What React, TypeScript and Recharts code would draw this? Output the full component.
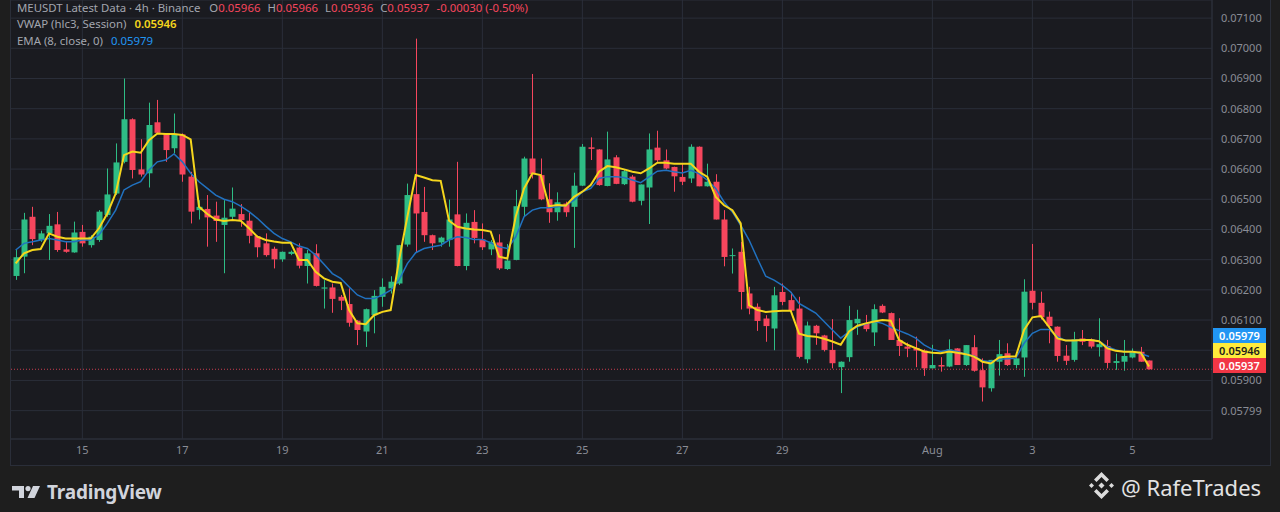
import React from 'react';
import { ComposedChart, Bar, Line, XAxis, YAxis, CartesianGrid, ReferenceLine } from 'recharts';

// MEUSDT 4h candles
const opens = [
  0.06246, 0.06310, 0.06442, 0.06365, 0.06387, 0.06417, 0.06334, 0.06324, 0.06392, 0.06348,
  0.06365, 0.06448, 0.06519, 0.06624, 0.06765, 0.06599, 0.06586, 0.06755, 0.06716, 0.06669,
  0.06715, 0.06575, 0.06464, 0.06468, 0.06446, 0.06415, 0.06442, 0.06451, 0.06429, 0.06378,
  0.06354, 0.06336, 0.06301, 0.06319, 0.06340, 0.06279, 0.06321, 0.06204, 0.06208, 0.06177,
  0.06153, 0.06098, 0.06062, 0.06116, 0.06177, 0.06205, 0.06221, 0.06350, 0.06517, 0.06458,
  0.06381, 0.06357, 0.06365, 0.06450, 0.06279, 0.06425, 0.06367, 0.06334, 0.06357, 0.06269,
  0.06299, 0.06475, 0.06635, 0.06580, 0.06500, 0.06457, 0.06486, 0.06475, 0.06545, 0.06672,
  0.06665, 0.06544, 0.06639, 0.06550, 0.06575, 0.06495, 0.06539, 0.06671, 0.06629, 0.06607,
  0.06574, 0.06569, 0.06674, 0.06543, 0.06558, 0.06433, 0.06312, 0.06326, 0.06188, 0.06144,
  0.06105, 0.06072, 0.06193, 0.06166, 0.06138, 0.05970, 0.06081, 0.06049, 0.06001, 0.05944,
  0.05977, 0.06089, 0.06089, 0.06059, 0.06147, 0.06123, 0.06034, 0.06012, 0.06007, 0.05999,
  0.05940, 0.05951, 0.05946, 0.06006, 0.05951, 0.06010, 0.05934, 0.05874, 0.05962, 0.05990,
  0.05951, 0.05976, 0.06197, 0.06157, 0.06111, 0.06078, 0.05982, 0.05968, 0.06039, 0.06036,
  0.06010, 0.06014, 0.05958, 0.05962, 0.05976, 0.05995, 0.05966,
];
const highs = [
  0.06332, 0.06455, 0.06475, 0.06396, 0.06451, 0.06458, 0.06362, 0.06426, 0.06415, 0.06381,
  0.06464, 0.06602, 0.06685, 0.06900, 0.06768, 0.06699, 0.06820, 0.06829, 0.06719, 0.06784,
  0.06718, 0.06591, 0.06497, 0.06514, 0.06492, 0.06497, 0.06539, 0.06484, 0.06455, 0.06380,
  0.06387, 0.06343, 0.06327, 0.06330, 0.06354, 0.06332, 0.06351, 0.06232, 0.06221, 0.06183,
  0.06205, 0.06100, 0.06138, 0.06199, 0.06238, 0.06245, 0.06349, 0.06552, 0.07032, 0.06541,
  0.06383, 0.06376, 0.06499, 0.06624, 0.06453, 0.06464, 0.06420, 0.06365, 0.06384, 0.06352,
  0.06531, 0.06641, 0.06915, 0.06635, 0.06553, 0.06523, 0.06492, 0.06588, 0.06683, 0.06705,
  0.06666, 0.06724, 0.06646, 0.06597, 0.06580, 0.06549, 0.06718, 0.06727, 0.06665, 0.06608,
  0.06618, 0.06682, 0.06675, 0.06618, 0.06583, 0.06464, 0.06337, 0.06359, 0.06210, 0.06155,
  0.06116, 0.06210, 0.06221, 0.06193, 0.06177, 0.06095, 0.06084, 0.06051, 0.06103, 0.05963,
  0.06147, 0.06134, 0.06117, 0.06152, 0.06152, 0.06125, 0.06106, 0.06025, 0.06045, 0.06003,
  0.06018, 0.05977, 0.06036, 0.06007, 0.06017, 0.06050, 0.05973, 0.05968, 0.06034, 0.06023,
  0.05979, 0.06235, 0.06352, 0.06194, 0.06128, 0.06079, 0.06017, 0.06061, 0.06067, 0.06039,
  0.06106, 0.06034, 0.05989, 0.06034, 0.06006, 0.06011, 0.05966,
];
const lows = [
  0.06233, 0.06255, 0.06348, 0.06359, 0.06299, 0.06326, 0.06323, 0.06323, 0.06343, 0.06340,
  0.06359, 0.06442, 0.06514, 0.06619, 0.06569, 0.06575, 0.06539, 0.06716, 0.06624, 0.06652,
  0.06558, 0.06420, 0.06433, 0.06343, 0.06359, 0.06255, 0.06433, 0.06409, 0.06354, 0.06308,
  0.06310, 0.06271, 0.06293, 0.06315, 0.06271, 0.06221, 0.06211, 0.06138, 0.06124, 0.06133,
  0.06078, 0.06017, 0.06011, 0.06056, 0.06144, 0.06188, 0.06216, 0.06343, 0.06323, 0.06359,
  0.06332, 0.06343, 0.06343, 0.06278, 0.06265, 0.06354, 0.06332, 0.06315, 0.06266, 0.06266,
  0.06298, 0.06442, 0.06569, 0.06497, 0.06422, 0.06429, 0.06442, 0.06339, 0.06544, 0.06630,
  0.06545, 0.06543, 0.06550, 0.06547, 0.06490, 0.06480, 0.06418, 0.06624, 0.06599, 0.06525,
  0.06547, 0.06554, 0.06543, 0.06542, 0.06433, 0.06278, 0.06254, 0.06135, 0.06119, 0.06064,
  0.06028, 0.06000, 0.06149, 0.06125, 0.05973, 0.05957, 0.06018, 0.05996, 0.05940, 0.05858,
  0.05962, 0.06051, 0.06062, 0.06014, 0.06123, 0.06034, 0.05981, 0.05977, 0.05944, 0.05915,
  0.05940, 0.05929, 0.05944, 0.05951, 0.05948, 0.05929, 0.05830, 0.05863, 0.05916, 0.05948,
  0.05940, 0.05912, 0.06135, 0.06102, 0.06023, 0.05962, 0.05951, 0.05962, 0.06017, 0.06006,
  0.05979, 0.05940, 0.05935, 0.05932, 0.05973, 0.05962, 0.05936,
];
const closes = [
  0.06308, 0.06433, 0.06368, 0.06387, 0.06412, 0.06332, 0.06326, 0.06390, 0.06354, 0.06376,
  0.06459, 0.06516, 0.06622, 0.06765, 0.06597, 0.06582, 0.06746, 0.06720, 0.06663, 0.06713,
  0.06582, 0.06459, 0.06475, 0.06440, 0.06428, 0.06439, 0.06469, 0.06431, 0.06379, 0.06341,
  0.06315, 0.06301, 0.06326, 0.06326, 0.06280, 0.06321, 0.06213, 0.06208, 0.06170, 0.06164,
  0.06091, 0.06067, 0.06136, 0.06180, 0.06210, 0.06227, 0.06348, 0.06514, 0.06453, 0.06381,
  0.06354, 0.06373, 0.06433, 0.06279, 0.06422, 0.06372, 0.06341, 0.06359, 0.06271, 0.06297,
  0.06477, 0.06635, 0.06583, 0.06500, 0.06457, 0.06490, 0.06457, 0.06545, 0.06674, 0.06667,
  0.06547, 0.06632, 0.06551, 0.06593, 0.06492, 0.06549, 0.06665, 0.06629, 0.06602, 0.06576,
  0.06558, 0.06674, 0.06543, 0.06558, 0.06433, 0.06309, 0.06315, 0.06193, 0.06138, 0.06097,
  0.06080, 0.06182, 0.06160, 0.06131, 0.05978, 0.06082, 0.06056, 0.06001, 0.05957, 0.05962,
  0.06100, 0.06104, 0.06070, 0.06136, 0.06125, 0.06034, 0.06014, 0.06005, 0.05999, 0.05940,
  0.05951, 0.05946, 0.06003, 0.05951, 0.06017, 0.05932, 0.05877, 0.05968, 0.05987, 0.05951,
  0.05973, 0.06194, 0.06157, 0.06109, 0.06080, 0.05981, 0.05965, 0.06036, 0.06028, 0.06012,
  0.06020, 0.05958, 0.05964, 0.05981, 0.05995, 0.05962, 0.05937,
];
const vwapValues = [
  0.06288, 0.06321, 0.06332, 0.06335, 0.06387, 0.06376, 0.06370, 0.06370, 0.06370, 0.06370,
  0.06404, 0.06453, 0.06519, 0.06646, 0.06658, 0.06654, 0.06696, 0.06718, 0.06716, 0.06716,
  0.06713, 0.06698, 0.06475, 0.06451, 0.06433, 0.06428, 0.06431, 0.06429, 0.06404, 0.06376,
  0.06365, 0.06360, 0.06356, 0.06356, 0.06299, 0.06299, 0.06260, 0.06238, 0.06227, 0.06223,
  0.06133, 0.06089, 0.06086, 0.06116, 0.06127, 0.06133, 0.06298, 0.06442, 0.06580, 0.06572,
  0.06563, 0.06561, 0.06429, 0.06409, 0.06403, 0.06400, 0.06398, 0.06393, 0.06310, 0.06304,
  0.06442, 0.06536, 0.06586, 0.06580, 0.06477, 0.06481, 0.06479, 0.06508, 0.06525, 0.06547,
  0.06591, 0.06610, 0.06606, 0.06599, 0.06591, 0.06586, 0.06602, 0.06621, 0.06621, 0.06618,
  0.06618, 0.06618, 0.06591, 0.06574, 0.06508, 0.06480, 0.06464, 0.06420, 0.06149, 0.06133,
  0.06127, 0.06129, 0.06131, 0.06131, 0.06055, 0.06047, 0.06045, 0.06038, 0.06029, 0.06018,
  0.06062, 0.06081, 0.06089, 0.06095, 0.06100, 0.06098, 0.06034, 0.06018, 0.06007, 0.05996,
  0.05992, 0.05990, 0.05996, 0.05992, 0.05987, 0.05979, 0.05962, 0.05956, 0.05976, 0.05979,
  0.05979, 0.06067, 0.06109, 0.06113, 0.06077, 0.06039, 0.06032, 0.06032, 0.06034, 0.06034,
  0.06030, 0.06006, 0.05998, 0.05995, 0.05995, 0.05992, 0.05946,
];
const emaValues = [
  0.06332, 0.06354, 0.06359, 0.06365, 0.06370, 0.06365, 0.06359, 0.06359, 0.06365, 0.06365,
  0.06382, 0.06420, 0.06464, 0.06531, 0.06547, 0.06558, 0.06597, 0.06624, 0.06630, 0.06650,
  0.06624, 0.06586, 0.06558, 0.06536, 0.06514, 0.06500, 0.06492, 0.06477, 0.06459, 0.06437,
  0.06411, 0.06387, 0.06370, 0.06359, 0.06345, 0.06337, 0.06315, 0.06285, 0.06254, 0.06238,
  0.06210, 0.06183, 0.06171, 0.06171, 0.06183, 0.06199, 0.06232, 0.06287, 0.06323, 0.06337,
  0.06343, 0.06348, 0.06365, 0.06376, 0.06373, 0.06367, 0.06367, 0.06356, 0.06343, 0.06337,
  0.06375, 0.06442, 0.06464, 0.06472, 0.06472, 0.06475, 0.06479, 0.06497, 0.06525, 0.06536,
  0.06569, 0.06575, 0.06575, 0.06572, 0.06564, 0.06555, 0.06574, 0.06593, 0.06596, 0.06591,
  0.06587, 0.06596, 0.06585, 0.06563, 0.06536, 0.06491, 0.06458, 0.06414, 0.06365, 0.06304,
  0.06245, 0.06232, 0.06215, 0.06193, 0.06155, 0.06139, 0.06123, 0.06095, 0.06067, 0.06040,
  0.06062, 0.06078, 0.06087, 0.06095, 0.06089, 0.06076, 0.06065, 0.06054, 0.06040, 0.06018,
  0.06003, 0.05996, 0.06001, 0.05996, 0.05987, 0.05981, 0.05965, 0.05962, 0.05970, 0.05972,
  0.05973, 0.06023, 0.06056, 0.06069, 0.06069, 0.06045, 0.06032, 0.06032, 0.06034, 0.06034,
  0.06030, 0.06012, 0.06001, 0.05995, 0.05995, 0.05989, 0.05979,
];

const dateTicks = [8, 20, 32, 44, 56, 68, 80, 92, 110, 122, 134];
const dateLabels = ['15', '17', '19', '21', '23', '25', '27', '29', 'Aug', '3', '5'];
const priceTicks = [0.058, 0.059, 0.060, 0.061, 0.062, 0.063, 0.064, 0.065, 0.066, 0.067, 0.068, 0.069, 0.070, 0.071];
const priceLabels = ['0.05799', '0.05900', '0.06000', '0.06100', '0.06200', '0.06300', '0.06400', '0.06500', '0.06600', '0.06700', '0.06800', '0.06900', '0.07000', '0.07100'];
const lastPrice = 0.05937;

const UP = '#2ebd85';
const DOWN = '#f6465d';
const GRID = '#2a2e39';
const AXIS_TEXT = '#8a8d96';

const rows = opens.map((o, i) => ({
  i,
  o,
  h: highs[i],
  l: lows[i],
  c: closes[i],
  vwap: vwapValues[i],
  ema: emaValues[i],
}));

const Candle = (props: any) => {
  const { x, y, width, height, payload } = props;
  const { o, h, l, c } = payload;
  const color = c >= o ? UP : DOWN;
  const span = h - l || 1e-9;
  const py = (v: number) => y + ((h - v) / span) * height;
  const top = py(Math.max(o, c));
  const bottom = py(Math.min(o, c));
  const cx = Math.round(x + width / 2) + 0.5;
  return (
    <g>
      <line x1={cx} x2={cx} y1={y} y2={y + height} stroke={color} strokeWidth={1} />
      <rect x={cx - 3} y={top} width={6} height={Math.max(1, bottom - top)} fill={color} />
    </g>
  );
};

const legendGray = '#a3a6af';

const Header = () => (
  <div style={{ position: 'absolute', left: 17, top: 0, fontSize: 11.4, lineHeight: '16px', color: legendGray, whiteSpace: 'nowrap' }}>
    <div>
      <span>MEUSDT Latest Data · 4h · Binance</span>
      <span style={{ marginLeft: 9 }}>O</span><span style={{ color: DOWN }}>0.05966</span>
      <span style={{ marginLeft: 7 }}>H</span><span style={{ color: DOWN }}>0.05966</span>
      <span style={{ marginLeft: 7 }}>L</span><span style={{ color: DOWN }}>0.05936</span>
      <span style={{ marginLeft: 7 }}>C</span><span style={{ color: DOWN }}>0.05937</span>
      <span style={{ marginLeft: 7, color: DOWN }}>-0.00030 (-0.50%)</span>
    </div>
    <div>
      <span>VWAP (hlc3, Session)</span>
      <span style={{ marginLeft: 8, color: '#f5d61d', fontWeight: 600 }}>0.05946</span>
    </div>
    <div style={{ marginTop: 1 }}>
      <span>EMA (8, close, 0)</span>
      <span style={{ marginLeft: 8, color: '#2196f3' }}>0.05979</span>
    </div>
  </div>
);

const badge = (top: number, bg: string, fg: string, text: string) => (
  <div style={{
    position: 'absolute', left: 1213, top, width: 53, height: 15, background: bg, color: fg,
    fontSize: 11, lineHeight: '15px', textAlign: 'center', fontWeight: 600,
  }}>{text}</div>
);

const TvLogo = () => (
  <svg width={30} height={14} style={{ position: 'absolute', left: 12, top: 486 }}>
    <path d="M0 0 H12 V12 H7 V4.5 H0 Z" fill="#d1d4dc" />
    <circle cx={16} cy={2.6} r={2.6} fill="#d1d4dc" />
    <path d="M21 0 H28 L22.5 12 H15.5 Z" fill="#d1d4dc" />
  </svg>
);

const BinanceLogo = () => (
  <svg width={28} height={28} style={{ position: 'absolute', left: 1088, top: 472 }}>
    <g fill="#dcdcdc">
      <polygon points="13.5,0 21,7.5 18.5,10 13.5,5 8.5,10 6,7.5" />
      <polygon points="13.5,27 21,19.5 18.5,17 13.5,22 8.5,17 6,19.5" />
      <polygon points="13.5,10.5 16.5,13.5 13.5,16.5 10.5,13.5" />
      <polygon points="3.5,11 6,13.5 3.5,16 1,13.5" />
      <polygon points="23.5,11 26,13.5 23.5,16 21,13.5" />
    </g>
  </svg>
);

export default function App() {
  return (
    <div style={{
      position: 'absolute', left: 0, top: 0, width: 1280, height: 512, overflow: 'hidden',
      background: '#1e1e1e', fontFamily: "'Noto Sans', sans-serif",
    }}>
      <div style={{
        position: 'absolute', left: 10, top: -1, width: 1261, height: 467, boxSizing: 'border-box',
        background: '#1a1b20', border: `1px solid ${GRID}`,
      }} />
      <div style={{ position: 'absolute', left: 10, top: 0 }}>
        <ComposedChart width={1260} height={465} data={rows} margin={{ top: 0, right: 0, bottom: 0, left: 0 }}>
          <CartesianGrid stroke={GRID} strokeWidth={1} />
          <XAxis
            dataKey="i"
            type="number"
            domain={[-0.68, 143.55]}
            allowDataOverflow
            ticks={dateTicks}
            tickFormatter={(v) => dateLabels[dateTicks.indexOf(v)]}
            height={26}
            axisLine={{ stroke: GRID }}
            tickLine={false}
            tickSize={0}
            tickMargin={7}
            tick={{ fill: AXIS_TEXT, fontSize: 11 }}
          />
          <YAxis
            orientation="right"
            type="number"
            domain={[0.05706, 0.0716]}
            allowDataOverflow
            ticks={priceTicks}
            tickFormatter={(v) => priceLabels[priceTicks.indexOf(v)]}
            width={58}
            axisLine={{ stroke: GRID }}
            tickLine={false}
            tickSize={0}
            tickMargin={9}
            tick={{ fill: AXIS_TEXT, fontSize: 11 }}
          />
          <ReferenceLine y={lastPrice} stroke={DOWN} strokeOpacity={0.8} strokeDasharray="1 2" />
          <Bar dataKey={(d: any) => [d.l, d.h]} barSize={6} shape={<Candle />} isAnimationActive={false} />
          <Line type="linear" dataKey="ema" stroke="#2172c0" strokeWidth={1.5} dot={false} activeDot={false} isAnimationActive={false} />
          <Line type="linear" dataKey="vwap" stroke="#f5d61d" strokeWidth={2} dot={false} activeDot={false} isAnimationActive={false} />
        </ComposedChart>
      </div>
      <Header />
      {badge(328, '#2196f3', '#ffffff', '0.05979')}
      {badge(343, '#ffeb3b', '#1e1e1e', '0.05946')}
      {badge(358, '#f23645', '#ffffff', '0.05937')}
      <TvLogo />
      <div style={{ position: 'absolute', left: 47, top: 479, fontSize: 19, fontWeight: 700, color: '#d1d4dc', letterSpacing: -0.2 }}>
        TradingView
      </div>
      <BinanceLogo />
      <div style={{ position: 'absolute', left: 1121, top: 472, fontSize: 22, color: '#e3e3e3' }}>
        @ RafeTrades
      </div>
    </div>
  );
}
